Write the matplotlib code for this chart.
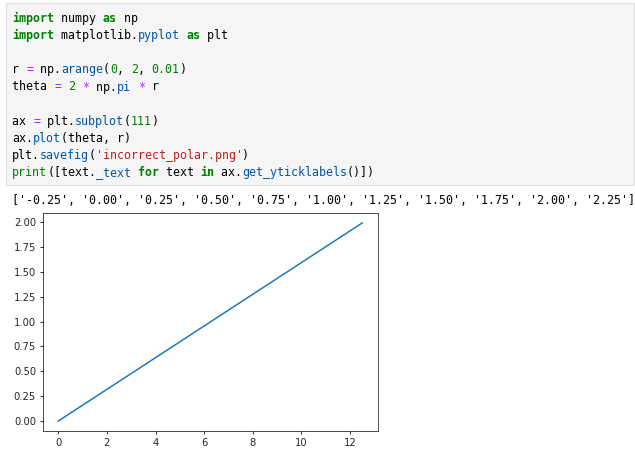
import matplotlib
matplotlib.use("Agg")
import matplotlib.pyplot as plt
from matplotlib.patches import Rectangle

# ---- data ----
line_x = [0.0, 12.5]
line_y = [0.0, 1.99]
x_ticks = [0, 2, 4, 6, 8, 10, 12]
y_ticks = [0.00, 0.25, 0.50, 0.75, 1.00, 1.25, 1.50, 1.75, 2.00]
printed_labels = ['-0.25', '0.00', '0.25', '0.50', '0.75', '1.00',
                  '1.25', '1.50', '1.75', '2.00', '2.25']

W, H = 635, 454
fig = plt.figure(figsize=(W / 100, H / 100), dpi=100)
fig.patch.set_facecolor("white")

def fx(px):
    return px / W

def fy(py):
    return 1 - py / H

# code cell background
fig.patches.append(Rectangle((fx(6), fy(184.5)), fx(634) - fx(6), fy(3) - fy(184.5),
                             transform=fig.transFigure, facecolor="#f5f5f5",
                             edgecolor="#dedede", linewidth=0.8))

KW, BI, OP, NUM, STR, PROP, N = "kw", "bi", "op", "num", "str", "prop", "n"
colors = {KW: "#008000", BI: "#008000", OP: "#aa22ff", NUM: "#008000",
          STR: "#ba2121", PROP: "#0055aa", N: "#000000"}

code_lines = [
    (0, [("import", KW), (" numpy ", N), ("as", KW), (" np", N)]),
    (1, [("import", KW), (" matplotlib.", N), ("pyplot", PROP), (" ", N), ("as", KW), (" plt", N)]),
    (3, [("r ", N), ("=", OP), (" np.", N), ("arange", PROP), ("(", N), ("0", NUM), (", ", N),
         ("2", NUM), (", ", N), ("0.01", NUM), (")", N)]),
    (4, [("theta ", N), ("=", OP), (" ", N), ("2", NUM), (" ", N), ("*", OP), (" np.", N),
         ("pi", PROP), (" ", N), ("*", OP), (" r", N)]),
    (6, [("ax ", N), ("=", OP), (" plt.", N), ("subplot", PROP), ("(", N), ("111", NUM), (")", N)]),
    (7, [("ax.", N), ("plot", PROP), ("(theta, r)", N)]),
    (8, [("plt.", N), ("savefig", PROP), ("(", N), ("'incorrect_polar.png'", STR), (")", N)]),
    (9, [("print", BI), ("([text.", N), ("_text", PROP), (" ", N), ("for", KW), (" text ", N),
         ("in", KW), (" ax.", N), ("get_yticklabels", PROP), ("()])", N)]),
]

CW = 6.97      # character advance in px
X0 = 12.3
FS = 8.35      # pt
for row, toks in code_lines:
    base = 22.3 + row * 17.05
    col = 0
    for txt, kind in toks:
        fig.text(fx(X0 + col * CW), fy(base), txt, family="DejaVu Sans Mono",
                 fontsize=FS, color=colors[kind],
                 fontweight="bold" if kind == KW else "normal",
                 va="baseline", ha="left")
        col += len(txt)

out_text = "[" + ", ".join("'%s'" % s for s in printed_labels) + "]"
fig.text(fx(X0 - 0.3), fy(204.5), out_text, family="DejaVu Sans Mono", fontsize=FS,
         color="#000000", va="baseline", ha="left")

# ---- the plot ----
ax = fig.add_axes([fx(43), fy(431), fx(377.5) - fx(43), fy(213) - fy(431)])
ax.plot(line_x, line_y, color="#1f77b4", linewidth=1.08)
ax.set_xticks(x_ticks)
ax.set_yticks(y_ticks)
ax.set_yticklabels(["%.2f" % v for v in y_ticks])
ax.set_xlim(-0.625, 13.125)
ax.set_ylim(-0.0995, 2.0895)
ax.tick_params(labelsize=7.2, length=2.5, width=0.58, pad=2.5, colors="#000000",
               labelcolor="#262626")
for s in ax.spines.values():
    s.set_linewidth(0.58)
    s.set_color("#262626")

fig.savefig("out.png", dpi=100)
